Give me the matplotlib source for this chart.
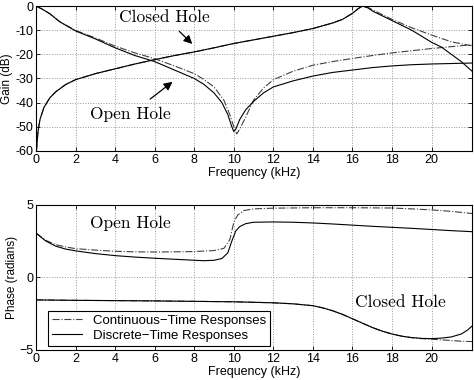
import matplotlib
matplotlib.use("Agg")
import matplotlib.pyplot as plt

# ---- gain (dB), open hole
open_gain_f_s = [0, 0.3, 0.7, 1.2, 1.6, 2, 3, 4, 5, 6, 7, 8, 8.5, 9, 9.4, 9.7, 9.9, 10,
                 10.1, 10.3, 10.6, 11, 11.5, 12, 13, 14, 15, 16, 17, 18, 19, 20, 21, 22.05]
open_gain_s = [0, -1.2, -3.2, -6.5, -8.4, -10.3, -13.6, -17.3, -20.5, -23, -26.5, -30, -32.5,
               -36, -40, -45, -50, -52, -51, -47, -43, -39.5, -36, -33.5, -31, -29, -27.5,
               -26.5, -25.5, -24.8, -24.3, -24, -23.8, -23.6]
open_gain_f_c = [0, 0.3, 0.7, 1.2, 1.6, 2, 3, 4, 5, 6, 7, 8, 8.5, 9, 9.5, 9.8, 10, 10.15,
                 10.3, 10.6, 11, 11.5, 12, 13, 14, 15, 16, 17, 18, 19, 20, 21, 22.05]
open_gain_c = [0, -1.2, -3.2, -6.5, -8.3, -10.1, -13.2, -16.6, -19.4, -21.8, -24.8, -28,
               -30.5, -33.5, -39, -45, -50, -53, -51, -46, -39, -34, -30.5, -27, -24.5, -23,
               -21.7, -20.5, -19.4, -18.5, -17.6, -16.8, -16]

# ---- gain (dB), closed hole
closed_gain_f_s = [0.02, 0.1, 0.2, 0.4, 0.7, 1, 1.5, 2, 3, 4, 5, 6, 7, 8, 9, 10, 11, 12, 13,
                   14, 15, 15.5, 16, 16.3, 16.5, 16.8, 17, 18, 19, 20, 20.5, 21, 21.5, 22.05]
closed_gain_s = [-60, -52, -47, -42, -38, -35.5, -32.5, -30.5, -28, -26, -24, -22.2, -20.5,
                 -19, -17.3, -15.5, -14, -12.5, -11, -9.3, -7, -5.5, -3, -1, 0, -0.8, -2,
                 -6, -10, -15, -17, -20, -23, -27]
closed_gain_f_c = [0.02, 0.1, 0.2, 0.4, 0.7, 1, 1.5, 2, 3, 4, 5, 6, 7, 8, 9, 10, 11, 12, 13,
                   14, 15, 15.5, 16, 16.3, 16.5, 16.8, 17, 18, 19, 20, 21, 22.05]
closed_gain_c = [-60, -52, -47, -42, -38, -35.5, -32.5, -30.5, -28, -26, -24, -22.2, -20.5,
                 -19, -17.3, -15.5, -14, -12.5, -11, -9.3, -7, -5.5, -3, -1, 0, -0.6, -1.5,
                 -5.5, -9, -12, -14.8, -16.5]

# ---- phase (radians), open hole
open_ph_f_s = [0, 0.5, 1, 1.5, 2, 3, 4, 5, 6, 7, 8, 8.5, 9, 9.4, 9.7, 9.9, 10.1, 10.3, 10.6,
               11, 12, 13, 14, 15, 16, 17, 18, 19, 20, 21, 22.05]
open_ph_s = [3.05, 2.5, 2.15, 1.95, 1.83, 1.64, 1.5, 1.4, 1.32, 1.25, 1.18, 1.15, 1.18, 1.3,
             1.7, 2.5, 3.2, 3.5, 3.7, 3.8, 3.82, 3.8, 3.75, 3.68, 3.6, 3.52, 3.45, 3.38, 3.3,
             3.22, 3.15]
open_ph_f_c = [0, 0.5, 1, 1.5, 2, 3, 4, 5, 6, 7, 8, 9, 9.5, 9.8, 10, 10.2, 10.5, 11, 12, 14,
               16, 18, 19, 20, 21, 22.05]
open_ph_c = [3.05, 2.55, 2.25, 2.1, 1.98, 1.88, 1.8, 1.76, 1.75, 1.76, 1.78, 1.85, 2.0, 2.6,
             3.8, 4.3, 4.6, 4.72, 4.77, 4.8, 4.8, 4.78, 4.72, 4.65, 4.55, 4.4]

# ---- phase (radians), closed hole
closed_ph_f_s = [0, 2, 4, 6, 8, 10, 12, 13, 14, 14.5, 15, 15.5, 16, 16.5, 17, 17.5, 18, 18.5,
                 19, 19.5, 20, 20.5, 21, 21.5, 21.8, 22.05]
closed_ph_s = [-1.55, -1.58, -1.6, -1.62, -1.65, -1.68, -1.75, -1.82, -1.95, -2.1, -2.3,
               -2.55, -2.85, -3.15, -3.45, -3.7, -3.9, -4.05, -4.15, -4.2, -4.22, -4.18,
               -4.1, -3.9, -3.65, -3.35]
closed_ph_f_c = [0, 2, 4, 6, 8, 10, 12, 13, 14, 14.5, 15, 15.5, 16, 16.5, 17, 17.5, 18, 18.5,
                 19, 19.5, 20, 20.5, 21, 21.5, 22.05]
closed_ph_c = [-1.55, -1.58, -1.6, -1.62, -1.65, -1.68, -1.75, -1.82, -1.95, -2.1, -2.3,
               -2.55, -2.85, -3.15, -3.45, -3.7, -3.9, -4.05, -4.15, -4.22, -4.26, -4.3,
               -4.35, -4.4, -4.42]

XTICKS = list(range(0, 21, 2))
XMAX = 22.05
LW = 0.8
CT = dict(color="0.25", linestyle="-.", linewidth=LW)   # continuous-time
DT = dict(color="black", linestyle="-", linewidth=LW)   # discrete-time

plt.rcParams["font.family"] = ["Liberation Sans", "DejaVu Sans"]
plt.rcParams["font.size"] = 9
plt.rcParams["axes.unicode_minus"] = False
LBL = dict(family="cmr10", fontsize=12.5)


def style(ax):
    ax.set_xlim(0, XMAX)
    ax.set_xticks(XTICKS)
    ax.grid(True, linestyle=":", color="0.6", linewidth=0.7)
    ax.tick_params(direction="in", length=3, width=0.6, pad=2, top=True, right=True)
    for s in ax.spines.values():
        s.set_linewidth(0.8)
    ax.set_xlabel("Frequency (kHz)", labelpad=1)


fig = plt.figure(figsize=(4.74, 3.8), dpi=100)

# ******上グラフ  gain
ax = fig.add_axes([0.076, 0.603, 0.92, 0.381])
ax.plot(open_gain_f_c, open_gain_c, **CT)
ax.plot(open_gain_f_s, open_gain_s, **DT)
ax.plot(closed_gain_f_c, closed_gain_c, **CT)
ax.plot(closed_gain_f_s, closed_gain_s, **DT)
ax.set_ylim(-60, 0)
ax.set_yticks(range(-60, 1, 10))
ax.set_ylabel("Gain (dB)", fontsize=8.5)
ax.yaxis.set_label_coords(-0.053, 0.5)
style(ax)
ax.annotate("Closed Hole", xy=(7.9, -15.7), xytext=(6.5, -4.5), ha="center", va="center",
            arrowprops=dict(arrowstyle="-|>", color="black", lw=0.9, shrinkA=4, shrinkB=0), **LBL)
ax.annotate("Open Hole", xy=(6.9, -31.4), xytext=(4.75, -45), ha="center", va="center",
            arrowprops=dict(arrowstyle="-|>", color="black", lw=0.9, shrinkA=6, shrinkB=0), **LBL)

# ******下グラフ  phase
ax2 = fig.add_axes([0.076, 0.079, 0.92, 0.382])
ax2.plot(open_ph_f_c, open_ph_c, label="Continuous\u2212Time Responses", **CT)
ax2.plot(open_ph_f_s, open_ph_s, label="Discrete\u2212Time Responses", **DT)
ax2.plot(closed_ph_f_c, closed_ph_c, **CT)
ax2.plot(closed_ph_f_s, closed_ph_s, **DT)
ax2.set_ylim(-5, 5)
ax2.set_yticks([-5, 0, 5])
ax2.set_yticklabels(["\u22125", "0", "5"])
ax2.set_ylabel("Phase (radians)", fontsize=8.5)
ax2.yaxis.set_label_coords(-0.041, 0.5)
style(ax2)
ax2.text(4.75, 3.75, "Open Hole", ha="center", va="center", **LBL)
ax2.text(18.4, -1.7, "Closed Hole", ha="center", va="center", **LBL)
leg = ax2.legend(loc="lower left", bbox_to_anchor=(0.027, 0.028), fancybox=False,
                 edgecolor="black", framealpha=1, fontsize=9.5, borderpad=0.3,
                 labelspacing=0.2, handlelength=2.3, borderaxespad=0)
leg.get_frame().set_linewidth(0.8)

plt.savefig("out.png", dpi=100)
